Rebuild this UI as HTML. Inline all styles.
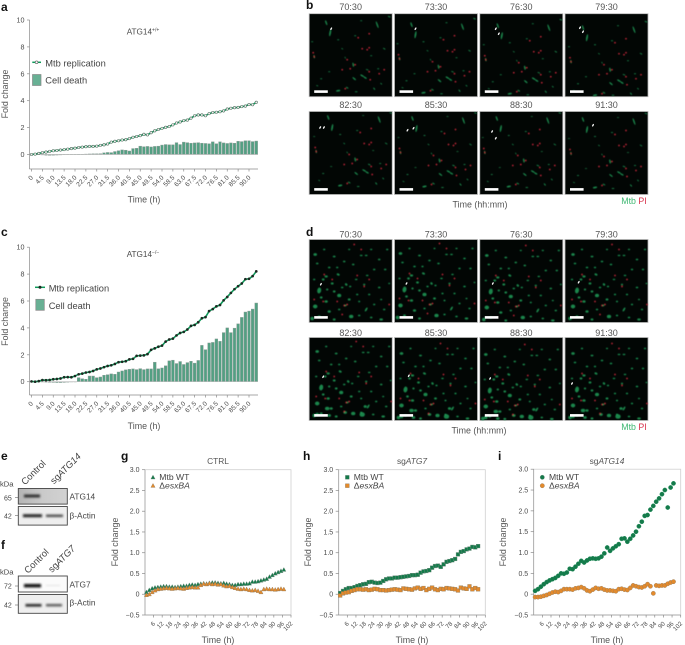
<!DOCTYPE html>
<html lang="en">
<head>
<meta charset="utf-8">
<title>ATG14 and ATG7 Mtb replication figure</title>
<style>
html,body{margin:0;padding:0;background:#fff;}
svg{display:block;font-family:"Liberation Sans",sans-serif;}
text{fill:#4a4a4a;}
.pl{font-weight:bold;font-size:12px;fill:#111;}
.pt{font-size:9px;text-anchor:middle;fill:#555;}
.ax{font-size:8.9px;text-anchor:middle;fill:#555;}
.ttl{font-size:8.4px;text-anchor:middle;fill:#555;}
.leg{font-size:9.3px;fill:#444;}
.leg2{font-size:8.6px;fill:#444;}
.bl{font-size:7.6px;fill:#444;}
.lane{font-size:9.4px;fill:#444;}
.mk{font-size:7px;fill:#444;}
.prot{font-size:8.3px;fill:#444;}
</style>
</head>
<body>
<svg id="fig" xmlns="http://www.w3.org/2000/svg" width="685" height="645" viewBox="0 0 685 645">
<defs>
<filter id="blur1" x="-30%" y="-150%" width="160%" height="400%"><feGaussianBlur stdDeviation="1"/></filter>
<filter id="soft" x="-2%" y="-2%" width="104%" height="104%"><feGaussianBlur stdDeviation="0.4"/></filter>
<linearGradient id="blotGrad" x1="0" x2="1" y1="0" y2="0"><stop offset="0" stop-color="#b4b4b4"/><stop offset="0.5" stop-color="#cacaca"/><stop offset="1" stop-color="#d2d2d2"/></linearGradient>
</defs>
<rect width="685" height="645" fill="#fff"/>

<text class="pl" x="1" y="11">a</text>
<text class="pl" x="306" y="9">b</text>
<text class="pl" x="1" y="236">c</text>
<text class="pl" x="306" y="236">d</text>
<text class="pl" x="1" y="460">e</text>
<text class="pl" x="1" y="549">f</text>
<text class="pl" x="121" y="460">g</text>
<text class="pl" x="303" y="460">h</text>
<text class="pl" x="498" y="460">i</text>

<!-- chart a static text -->
<g id="chartA"></g>
<text class="ax" transform="translate(8,94) rotate(-90)">Fold change</text>
<text class="ax" x="144" y="202.5">Time (h)</text>
<text x="126.7" y="34.5" font-size="8.2">ATG14<tspan font-size="5" dy="-3">+/+</tspan></text>
<line x1="32.3" x2="41" y1="62.3" y2="62.3" stroke="#0d9a5a" stroke-width="1.5"/>
<circle cx="36.6" cy="62.3" r="1.4" fill="#fff" stroke="#555" stroke-width="0.6"/>
<text class="leg" x="45.3" y="66.7">Mtb replication</text>
<rect x="32.5" y="74.5" width="8.5" height="11" fill="#68b094" stroke="#888" stroke-width="0.7"/>
<text class="leg" x="45.3" y="83.7">Cell death</text>

<!-- chart c static text -->
<g id="chartC"></g>
<text class="ax" transform="translate(8,321.5) rotate(-90)">Fold change</text>
<text class="ax" x="144" y="429">Time (h)</text>
<text x="126.7" y="257" font-size="8.2">ATG14<tspan font-size="5" dy="-3">−/−</tspan></text>
<line x1="35" x2="45" y1="287.3" y2="287.3" stroke="#0d9a5a" stroke-width="1.5"/>
<circle cx="40" cy="287.3" r="1.5" fill="#1c2a22"/>
<text class="leg" x="48.7" y="291.7">Mtb replication</text>
<rect x="35.8" y="299.3" width="8.5" height="11" fill="#68b094" stroke="#888" stroke-width="0.7"/>
<text class="leg" x="48.7" y="308.9">Cell death</text>

<!-- micrographs -->
<g id="micrographsB"></g>
<g id="micrographsD"></g>
<text class="ax" x="480" y="207.5">Time (hh:mm)</text>
<text font-size="8.8" text-anchor="end" x="646.7" y="204"><tspan style="fill:#3fb873">Mtb</tspan> <tspan style="fill:#d8304a">PI</tspan></text>
<text class="ax" x="479" y="433.5">Time (hh:mm)</text>
<text font-size="8.8" text-anchor="end" x="646.7" y="430"><tspan style="fill:#3fb873">Mtb</tspan> <tspan style="fill:#d8304a">PI</tspan></text>

<!-- blot e -->
<g>
<text class="lane" transform="translate(25,485.5) rotate(-45)">Control</text>
<text class="lane" transform="translate(54,484.5) rotate(-45)">sg<tspan font-style="italic">ATG14</tspan></text>
<text class="bl" x="0" y="486.6">kDa</text>
<text class="mk" x="4" y="500.3">65</text>
<text class="mk" x="4" y="518.3">42</text>
<line x1="15" x2="18" y1="497.7" y2="497.7" stroke="#666" stroke-width="0.6"/>
<line x1="15" x2="18" y1="515.7" y2="515.7" stroke="#666" stroke-width="0.6"/>
<rect x="18.3" y="488.5" width="49" height="15.6" fill="url(#blotGrad)" stroke="#444" stroke-width="0.9"/>
<rect x="24" y="494.5" width="16" height="3" fill="#2e2e2e" filter="url(#blur1)"/>
<rect x="18.3" y="506.5" width="49" height="18.6" fill="#eeeeee" stroke="#444" stroke-width="0.9"/>
<rect x="23" y="514.3" width="19" height="2.8" fill="#151515" filter="url(#blur1)"/>
<rect x="46" y="514.6" width="17" height="2.4" fill="#444" filter="url(#blur1)"/>
<text class="prot" x="69.5" y="499.6">ATG14</text>
<text class="prot" x="69.5" y="518.6">β-Actin</text>
</g>
<!-- blot f -->
<g>
<text class="lane" transform="translate(28,574) rotate(-45)">Control</text>
<text class="lane" transform="translate(52,573) rotate(-45)">sg<tspan font-style="italic">ATG7</tspan></text>
<text class="bl" x="0" y="574.6">kDa</text>
<text class="mk" x="4" y="588.6">72</text>
<text class="mk" x="4" y="607.6">42</text>
<line x1="15" x2="18" y1="586" y2="586" stroke="#666" stroke-width="0.6"/>
<line x1="15" x2="18" y1="605" y2="605" stroke="#666" stroke-width="0.6"/>
<rect x="18.3" y="576" width="49" height="16" fill="#fbfbfb" stroke="#444" stroke-width="0.9"/>
<rect x="24" y="584" width="17" height="3.4" fill="#0c0c0c" filter="url(#blur1)"/>
<rect x="46" y="585" width="14" height="1" fill="#ddd" filter="url(#blur1)"/>
<rect x="18.3" y="594.5" width="49" height="18.8" fill="#efefef" stroke="#444" stroke-width="0.9"/>
<rect x="25.5" y="604" width="16" height="2.6" fill="#222" filter="url(#blur1)"/>
<rect x="46" y="604" width="16" height="2.4" fill="#555" filter="url(#blur1)"/>
<text class="prot" x="69.5" y="587.3">ATG7</text>
<text class="prot" x="69.5" y="605.7">β-Actin</text>
</g>

<!-- charts g h i -->
<g id="chartG"></g>
<g id="chartH"></g>
<g id="chartI"></g>
<text class="ttl" x="218" y="464">CTRL</text>
<text class="ttl" x="412" y="464">sg<tspan font-style="italic">ATG7</tspan></text>
<text class="ttl" x="607" y="464">sg<tspan font-style="italic">ATG14</tspan></text>
<text class="ax" transform="translate(118,542) rotate(-90)">Fold change</text>
<text class="ax" transform="translate(311,542) rotate(-90)">Fold change</text>
<text class="ax" transform="translate(506,542) rotate(-90)">Fold change</text>
<text class="ax" x="218" y="643">Time (h)</text>
<text class="ax" x="412" y="643">Time (h)</text>
<text class="ax" x="607" y="643">Time (h)</text>
<text class="leg2" x="159.3" y="480">Mtb WT</text>
<text class="leg2" x="159.3" y="488.6">Δ<tspan font-style="italic">esxBA</tspan></text>
<text class="leg2" x="353.7" y="480">Mtb WT</text>
<text class="leg2" x="353.7" y="488.6">Δ<tspan font-style="italic">esxBA</tspan></text>
<text class="leg2" x="549" y="480">Mtb WT</text>
<text class="leg2" x="549" y="488.6">Δ<tspan font-style="italic">esxBA</tspan></text>
</svg>

<script>
// ---- panels a and c: categories, ticks and series ----
const barLineTickLabels = ["0","4.5","9.0","13.5","18.0","22.5","27.0","31.5","36.0","40.5","45.0","49.5","54.0","58.5","63.0","67.5","72.0","76.5","81.0","85.5","90.0"];
const barLineYTicks = [0,2,4,6,8,10];
const replicationA = [
0.00,0.03,0.08, 0.14,0.18,0.23, 0.28,0.30,0.33, 0.36,0.40,0.44,
0.47,0.52,0.55, 0.58,0.60,0.60, 0.62,0.68,0.72, 0.78,0.92,0.98,
1.02,1.08,1.10, 1.18,1.28,1.34, 1.40,1.50,1.46, 1.62,1.76,1.86,
1.94,2.02,2.08, 2.20,2.34,2.42, 2.52,2.56,2.70, 2.88,2.94,2.94,
2.88,3.04,3.12, 3.14,3.18,3.24, 3.38,3.44,3.48, 3.50,3.56,3.60,
3.72,3.70,3.88];
const deathA = [
0,-0.01,-0.02,-0.03,-0.05,-0.06,-0.05,-0.04,-0.03,-0.02,-0.01,-0.01,
-0.02,0.01,0.02,0.03,0.04,0.05,0.05,0.06,0.12,0.15,0.14,0.22,
0.28,0.34,0.32,0.26,0.44,0.46,0.62,0.58,0.60,0.56,0.60,0.62,
0.70,0.74,0.72,0.72,0.88,0.74,0.92,0.88,0.84,0.86,0.88,0.84,
0.82,0.80,0.94,0.80,0.94,0.86,0.82,0.86,0.84,0.98,0.96,1.02,
1.02,0.96,1.00];
const replicationC = [
0.02,0.00,0.04, 0.12,0.11,0.13, 0.18,0.20,0.24, 0.33,0.34,0.33,
0.42,0.55,0.60, 0.68,0.72,0.80, 0.92,0.98,1.08, 1.17,1.22,1.32,
1.45,1.48,1.52, 1.66,1.70,1.92, 1.94,1.96,2.05, 2.37,2.48,2.60,
2.68,2.98,3.14, 3.20,3.44,3.62, 3.70,3.88,4.15, 4.22,4.42,4.72,
4.80,5.25,5.40, 5.60,5.70,6.05, 6.30,6.60,6.88, 7.10,7.30,7.62,
7.65,7.85,8.20];
const deathC = [
0,0,-0.01,-0.02,-0.03,-0.04,-0.05,-0.06,-0.06,-0.05,-0.03,-0.02,-0.02,
0.30,0.22,0.18,0.42,0.42,0.30,0.35,0.48,0.52,0.58,0.55,0.72,0.80,0.88,0.92,0.95,0.90,0.97,0.90,0.95,0.95,1.45,
0.96,1.02,1.18,1.55,1.60,1.35,1.50,1.28,1.42,1.52,1.38,1.58,
2.70,2.38,2.88,2.92,3.18,3.00,3.65,4.00,3.65,3.98,4.30,4.78,5.18,5.25,5.40,5.85];

// ---- panels g, h, i ----
const scatterYTicks = ["−0.5","0","0.5","1.0","1.5","2.0","2.5","3.0"];
const scatterYValues = [-0.5,0,0.5,1,1.5,2,2.5,3];
const scatterXTicks = [6,12,18,24,30,36,42,48,54,60,66,72,78,84,90,96,102];
const wtG = [0.05,0.10,0.14,0.16,0.17,0.18,0.19,0.19,0.18,0.18,0.17,0.18,0.19,0.20,0.20,0.22,0.23,0.22,0.24,0.25,0.26,0.25,0.27,0.28,0.28,0.27,0.26,0.27,0.25,0.24,0.22,0.22,0.24,0.24,0.25,0.25,0.26,0.30,0.30,0.31,0.33,0.35,0.37,0.42,0.46,0.50,0.53,0.56,0.59];
const esxG = [-0.02,0.00,0.05,0.09,0.12,0.13,0.14,0.15,0.14,0.13,0.14,0.15,0.14,0.13,0.15,0.16,0.17,0.16,0.16,0.22,0.25,0.24,0.26,0.24,0.25,0.23,0.24,0.21,0.19,0.20,0.17,0.15,0.13,0.12,0.13,0.12,0.10,0.09,0.10,0.08,0.05,0.12,0.13,0.12,0.12,0.11,0.12,0.13,0.12];
const wtH = [0.03,0.08,0.12,0.15,0.15,0.17,0.20,0.22,0.24,0.25,0.29,0.30,0.28,0.27,0.28,0.32,0.36,0.38,0.38,0.40,0.40,0.41,0.42,0.43,0.44,0.46,0.46,0.47,0.52,0.55,0.56,0.58,0.64,0.68,0.69,0.66,0.72,0.78,0.80,0.82,0.85,0.96,1.02,1.04,1.08,1.10,1.14,1.13,1.16];
const esxH = [-0.03,0.02,0.04,0.05,0.08,0.10,0.12,0.12,0.11,0.12,0.10,0.11,0.13,0.12,0.10,0.10,0.09,0.10,0.11,0.12,0.11,0.10,0.14,0.13,0.12,0.11,0.14,0.16,0.13,0.15,0.10,0.13,0.16,0.12,0.10,0.13,0.12,0.15,0.14,0.13,0.12,0.09,0.16,0.14,0.13,0.19,0.12,0.15,0.12];
const wtI = [0.08,0.12,0.18,0.24,0.29,0.33,0.36,0.39,0.44,0.50,0.49,0.52,0.61,0.60,0.66,0.73,0.80,0.76,0.81,0.85,0.86,0.85,0.86,0.90,0.98,1.12,1.04,1.10,1.15,1.20,1.33,1.34,1.26,1.33,1.41,1.50,1.63,1.74,1.88,1.90,2.03,2.12,2.22,2.30,2.40,2.50,2.08,2.56,2.66];
const esxI = [-0.07,-0.07,-0.06,-0.04,-0.02,0.01,0.04,0.06,0.05,0.08,0.12,0.12,0.12,0.11,0.14,0.15,0.17,0.14,0.09,0.07,0.11,0.15,0.13,0.14,0.11,0.09,0.09,0.08,0.07,0.12,0.13,0.11,0.10,0.15,0.21,0.19,0.17,0.16,0.19,0.24,0.19,0.02,0.21,0.20,0.21,0.21,0.25,0.28,0.30];

// ---- micrograph labels and features ----
const frameLabels = ["70:30","73:30","76:30","79:30","82:30","85:30","88:30","91:30"];
const bacteriaB = [[17,9,3.5,1,70],[21,19,5,1.2,100],[68,11,5,1,70],[80,3,2,0.8,20],[5,43,2.5,0.8,80],[44,51,3,1,80],[53,62,3,1,30],[45,65,3,1,40],[56,64,2.5,1,30],[29,77,3,1.2,-10],[38,74,2,0.8,30],[75,35,2,0.7,30],[29,26,1.5,0.7,0],[46,22,1.5,0.7,0],[58,56,2,0.7,20],[69,55,1.5,0.7,0],[12,65,1.5,0.7,0],[47,78,2,0.7,0],[62,42,1.5,0.6,0],[3,28,1.5,0.6,0],[33,35,1.5,0.6,30],[52,7,1.5,0.6,0],[72,70,1.5,0.7,40],[20,58,1.5,0.6,0],[36,44,1.4,0.6,60],[8,72,1.5,0.6,20],[65,75,2,0.8,50]];
const deadCellsB = [[4,39],[5,43],[53,35],[58,36],[60,34],[38,46],[33,56],[41,55],[46,51],[60,58],[75,56],[49,24],[60,20],[70,60],[36,75],[61,66]];
const driftB = [[0,0],[0,2],[1,3],[1,5],[2,-3],[1,-2],[0,-2],[1,-1]];
const pointersB = [[[22,15]],[[21,15]],[[16,15],[19,20]],[[15,14],[18,18]],[[11,16],[14.7,16]],[[13,18.7],[19,16.7]],[[12.3,20],[16,26.7]],[[28,13.7]]];
const bacteriaD = [[6,15,2,1.5,0],[25,17,1.6,1,0],[8,24,1.5,1,0],[52,16,1.6,0.8,0],[57,16,1.6,0.8,0],[35,22,1.5,1,0],[37,45,1.6,1.2,40],[58,36,1.5,0.8,0],[17,37,1.8,1.2,0],[29,35,1.8,1.2,30],[47,40,1.5,0.8,0],[14,40,1.5,1.2,0],[10,51,2.2,3.3,10],[25,52,1.5,1.2,0],[30,56,2.3,2,0],[17,62,1.8,1.4,0],[6,67,2.5,2.2,0],[40,60,1.6,1.2,0],[57,70,1,2.5,30],[42,77,2.4,2,0],[3,79,2,2,0],[10,77,1.6,1.3,0],[20,72,1.8,1.4,0],[50,76,1.4,1,0],[60,55,1.3,1,0],[70,48,1.5,1,0],[33,48,1.4,1,0],[18,50,1.3,1.1,0],[62,78,1.5,1,0],[72,80,2,1.2,0],[20,28,1.5,1,0],[28,28,1.3,1,0],[44,25,1.5,1,0],[70,20,1.5,1,0],[76,30,1.4,1,0],[65,30,1.4,1,0],[48,55,1.3,1,0],[41,47,1.3,1,0],[5,40,1.3,1,0],[12,58,1.5,1.2,0],[30,70,1.4,1,0],[25,80,1.6,1.2,0],[55,45,1.3,1,0],[65,65,1.3,1,0],[75,70,1.4,1,0],[78,10,1.3,1,0],[62,10,1.3,0.8,0],[15,10,1.3,1,0],[40,10,1.2,0.8,0],[36,66,1.5,1.1,0],[50,62,1.2,1,0],[72,60,1.2,0.9,0],[80,44,1.1,0.8,0],[23,44,1.6,1.2,0]];
const deadCellsD = [[15,35],[23,40],[48,36],[5,60],[35,66],[38,65],[52,10],[45,5],[80,65],[33,75],[60,40],[14,62],[28,62],[55,47]];
const lowerExtrasD = [[16,72,2.5,2,0],[6,78,2,2,0],[51,78,3,2.5,0],[18,79,2,1.5,0],[54,70,1.8,1.5,0],[34,76,2,1.5,0]];
const driftD = [[0,0],[0,-1],[1,1],[2,0],[2,-1],[1,1],[0,2],[2,1]];
const pointersD = [[[11.7,44.7]],[[12,44]],[[13,44]],[[13.7,42.7]],[[14,39.3]],[[14.3,38.3]],[[10.3,41]],[[7,46]]];

const NS = "http://www.w3.org/2000/svg";
function mk(parent, tag, attrs, txt){
  const e = document.createElementNS(NS, tag);
  for (const k in attrs) e.setAttribute(k, attrs[k]);
  if (txt !== undefined) e.textContent = txt;
  parent.appendChild(e);
  return e;
}

// ---- combo charts a, c ----
function comboChart(rootId, yZero, yBottom, line, bars, openMarkers){
  const root = document.getElementById(rootId);
  const xT = h => 31.5 + h * (249 - 31.5) / 90;
  const yV = v => yZero - v * 13.45;
  const barW = 2.75;
  const stepH = 1.5;
  bars.forEach((v,i) => {
    const x = xT(i * stepH);
    const y = Math.min(yV(v), yV(0));
    const b = mk(root, 'rect', {x:x-barW/2, y:y, width:barW, height:Math.max(Math.abs(yV(v)-yV(0)),0.2), fill:'#53a083', stroke:'#8b9a94', 'stroke-width':0.45});
    
    
  });
  const zero = mk(root, 'line', {x1:29.5, x2:258, y1:yV(0), y2:yV(0), stroke:'#bdbdbd', 'stroke-width':0.7});
  
  
  const yAxis = mk(root, 'line', {x1:29.5, x2:29.5, y1:yV(10), y2:yBottom, stroke:'#8a8a8a', 'stroke-width':0.7});
  
  
  const xAxis = mk(root, 'line', {x1:29.5, x2:258, y1:yBottom, y2:yBottom, stroke:'#8a8a8a', 'stroke-width':0.7});
  
  
  barLineYTicks.forEach(v => {
    const t = mk(root, 'line', {x1:27, x2:29.5, y1:yV(v), y2:yV(v), stroke:'#8a8a8a', 'stroke-width':0.7});
    
    
    const l = mk(root, 'text', {x:24.5, y:yV(v)+2.5, 'text-anchor':'end', 'font-size':7.2}, String(v));
    
    
  });
  barLineTickLabels.forEach(lab => {
    const x = xT(parseFloat(lab));
    const t = mk(root, 'line', {x1:x, x2:x, y1:yBottom, y2:yBottom+2.5, stroke:'#8a8a8a', 'stroke-width':0.7});
    
    
    const l = mk(root, 'text', {transform:'translate('+(x+2)+','+(yBottom+9)+') rotate(-45)', 'text-anchor':'end', 'font-size':6.5}, lab);
    
    
  });
  const pts = line.map((v,i) => xT(i*stepH).toFixed(2)+','+yV(v).toFixed(2)).join(' ');
  const path = mk(root, 'polyline', {points:pts, fill:'none', stroke:'#0d9a5a', 'stroke-width':1.6});
  
  
  line.forEach((v,i) => {
    const m = mk(root, 'circle', openMarkers
      ? {cx:xT(i*stepH), cy:yV(v), r:1.25, fill:'#eef2ef', stroke:'#4e6a5c', 'stroke-width':0.55}
      : {cx:xT(i*stepH), cy:yV(v), r:1.35, fill:'#1c2a22'});
    
    
  });
}
comboChart('chartA', 154.5, 169, replicationA, deathA, true);
comboChart('chartC', 381.7, 395, replicationC, deathC, false);

// ---- micrograph grids ----
function micrographs(rootId, rowTops, labelYs, bacteria, dead, drift, pointers, extras, spotScale, spotOpacity){
  const root = document.getElementById(rootId);
  const colX = [309.2, 394.5, 479.8, 565];
  const size = 83;
  frameLabels.forEach((lab, p) => {
    const col = p % 4, row = p < 4 ? 0 : 1;
    const x0 = colX[col], y0 = rowTops[row];
    const label = mk(root, 'text', {x:x0+size/2, y:labelYs[row]+3, class:'pt'}, lab);
    
    
    const g = mk(root, 'g', {});
    
    
    const bg = mk(g, 'rect', {x:x0, y:y0, width:size, height:size, fill:'#020604', stroke:'#b8b8b8', 'stroke-width':0.8});
    
    
    const soft = mk(g, 'g', {filter:'url(#soft)'});
    
    
    const d = drift[p];
    const list = row === 1 ? bacteria.concat(extras) : bacteria;
    list.forEach(s => {
      const cx = Math.min(size-1.5, Math.max(1.5, s[0]+d[0])), cy = Math.min(size-1.5, Math.max(1.5, s[1]+d[1]));
      const e = mk(soft, 'ellipse', {cx:x0+cx, cy:y0+cy, rx:s[2]*spotScale, ry:s[3]*spotScale, fill:'#23a55c', opacity:spotOpacity, transform:'rotate('+s[4]+' '+(x0+cx)+' '+(y0+cy)+')'});
      
      
    });
    dead.forEach(s => {
      const e = mk(soft, 'circle', {cx:x0+Math.min(size-1, s[0]+d[0]), cy:y0+Math.min(size-1, Math.max(1, s[1]+d[1])), r:0.85, fill:'#c8283a'});
      
      
    });
    pointers[p].forEach(s => {
      const px = x0+s[0], py = y0+s[1];
      const e = mk(g, 'ellipse', {cx:px, cy:py, rx:1.5, ry:0.75, fill:'#f2f2f2', transform:'rotate(-60 '+px+' '+py+')'});
      
      
    });
    const bar = mk(g, 'rect', {x:x0+5, y:y0+76.6, width:13.6, height:2.6, fill:'#fff'});
    
    
  });
}
micrographs('micrographsB', [13.7, 111.5], [7, 105.2], bacteriaB, deadCellsB, driftB, pointersB, [], 0.72, 0.8);
micrographs('micrographsD', [239.5, 337.5], [234.3, 332.8], bacteriaD, deadCellsD, driftD, pointersD, lowerExtrasD, 0.9, 0.8);

// ---- scatter charts g, h, i ----
function marker(root, shape, x, y, fill, stroke, s){
  if (shape === 'tri') return mk(root, 'polygon', {points:[x,y-s*1.05, x-s,y+s*0.8, x+s,y+s*0.8].join(','), fill:fill, stroke:stroke, 'stroke-width':0.4});
  if (shape === 'sq') return mk(root, 'rect', {x:x-s*0.9, y:y-s*0.9, width:s*1.8, height:s*1.8, fill:fill, stroke:stroke, 'stroke-width':0.4});
  return mk(root, 'circle', {cx:x, cy:y, r:s, fill:fill, stroke:stroke, 'stroke-width':0.4});
}
function scatterChart(rootId, left, right, top, wt, esx, shape, legendX, size){
  const root = document.getElementById(rootId);
  const bottom = 615;
  const xT = h => left + h * (right-left) / 102;
  const yV = v => bottom - (v + 0.5) * (bottom-top) / 3.5;
  const box = mk(root, 'rect', {x:left, y:top, width:right-left, height:bottom-top, fill:'#fff', stroke:'#d0d0d0', 'stroke-width':0.8});
  
  
  const yAxis = mk(root, 'line', {x1:left, x2:left, y1:top, y2:bottom, stroke:'#9a9a9a', 'stroke-width':0.7});
  
  
  const xAxis = mk(root, 'line', {x1:left, x2:right, y1:bottom, y2:bottom, stroke:'#9a9a9a', 'stroke-width':0.7});
  
  
  scatterYValues.forEach((v,i) => {
    const t = mk(root, 'line', {x1:left-3, x2:left, y1:yV(v), y2:yV(v), stroke:'#8a8a8a', 'stroke-width':0.7});
    
    
    const l = mk(root, 'text', {x:left-5.5, y:yV(v)+2.5, 'text-anchor':'end', 'font-size':7}, scatterYTicks[i]);
    
    
  });
  scatterXTicks.forEach(h => {
    const x = xT(h);
    const t = mk(root, 'line', {x1:x, x2:x, y1:bottom, y2:bottom+2.5, stroke:'#8a8a8a', 'stroke-width':0.7});
    
    
    const l = mk(root, 'text', {transform:'translate('+(x+2)+','+(bottom+9)+') rotate(-45)', 'text-anchor':'end', 'font-size':6.2}, String(h));
    
    
  });
  const step = 2, t0 = 1;
  wt.forEach((v,i) => {
    const m = marker(root, shape, xT(t0+i*step), yV(v), '#147a4a', shape==='circ'?'#1d8a58':'#6f8a7c', size);
    
    
  });
  esx.forEach((v,i) => {
    const m = marker(root, shape, xT(t0+i*step), yV(v), '#e48a2c', '#8f7a5a', size);
    
    
  });
  const lw = marker(root, shape, legendX, 477.3, '#147a4a', '#6f8a7c', size);
  
  
  const le = marker(root, shape, legendX, 485.7, '#e48a2c', '#8f7a5a', size);
  
  
}
scatterChart('chartG', 145, 291, 469.7, wtG, esxG, 'tri', 153, 2.1);
scatterChart('chartH', 338.7, 485.3, 469.7, wtH, esxH, 'sq', 347.3, 2.1);
scatterChart('chartI', 533.7, 680.7, 469.2, wtI, esxI, 'circ', 542.3, 2.15);
</script>
</body>
</html>
